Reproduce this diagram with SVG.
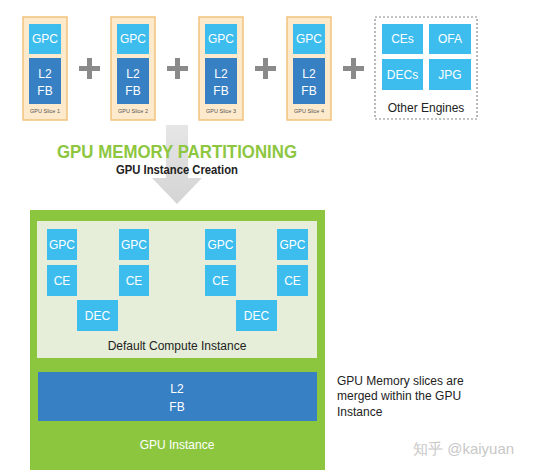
<svg xmlns="http://www.w3.org/2000/svg" width="533" height="474" viewBox="0 0 533 474">
<defs>
<linearGradient id="arrowGrad" x1="0" y1="0" x2="0" y2="1">
<stop offset="0" stop-color="#e6e6e6"/>
<stop offset="1" stop-color="#d4d4d4"/>
</linearGradient>
</defs>
<style>
text{font-family:"Liberation Sans","DejaVu Sans",Arial,sans-serif}
.slice{fill:#fde9cc;stroke:#f2c27c;stroke-width:1.5}
.gpc{fill:#3dbdee}
.l2{fill:#3780c4}
.wt{fill:#ffffff;font-size:12px;text-anchor:middle}
.lbl{fill:#555555;font-size:5.5px;text-anchor:middle}
.plus{fill:#8a8a8a}
.blk{fill:#222222;font-size:12px}
</style>
<rect width="533" height="474" fill="#ffffff"/>

<g id="arrow">
<path d="M166,125 H188 V178 H202 L177,204 L152,178 H166 Z" fill="url(#arrowGrad)"/>
</g>

<g id="slice1">
<rect class="slice" x="23" y="17" width="44" height="103"/>
<rect class="gpc" x="29" y="24" width="32" height="30"/>
<text class="wt" x="45" y="43">GPC</text>
<rect class="l2" x="29" y="58" width="32" height="46"/>
<text class="wt" x="45" y="78">L2</text>
<text class="wt" x="45" y="95">FB</text>
<text class="lbl" x="45" y="113">GPU Slice 1</text>
</g>
<g id="slice2">
<rect class="slice" x="111" y="17" width="44" height="103"/>
<rect class="gpc" x="117" y="24" width="32" height="30"/>
<text class="wt" x="133" y="43">GPC</text>
<rect class="l2" x="117" y="58" width="32" height="46"/>
<text class="wt" x="133" y="78">L2</text>
<text class="wt" x="133" y="95">FB</text>
<text class="lbl" x="133" y="113">GPU Slice 2</text>
</g>
<g id="slice3">
<rect class="slice" x="199" y="17" width="44" height="103"/>
<rect class="gpc" x="205" y="24" width="32" height="30"/>
<text class="wt" x="221" y="43">GPC</text>
<rect class="l2" x="205" y="58" width="32" height="46"/>
<text class="wt" x="221" y="78">L2</text>
<text class="wt" x="221" y="95">FB</text>
<text class="lbl" x="221" y="113">GPU Slice 3</text>
</g>
<g id="slice4">
<rect class="slice" x="287" y="17" width="44" height="103"/>
<rect class="gpc" x="293" y="24" width="32" height="30"/>
<text class="wt" x="309" y="43">GPC</text>
<rect class="l2" x="293" y="58" width="32" height="46"/>
<text class="wt" x="309" y="78">L2</text>
<text class="wt" x="309" y="95">FB</text>
<text class="lbl" x="309" y="113">GPU Slice 4</text>
</g>

<g id="plus-signs">
<path class="plus" d="M87,58 h5 v8 h8 v5 h-8 v8 h-5 v-8 h-8 v-5 h8 Z"/>
<path class="plus" d="M175,58 h5 v8 h8 v5 h-8 v8 h-5 v-8 h-8 v-5 h8 Z"/>
<path class="plus" d="M263,58 h5 v8 h8 v5 h-8 v8 h-5 v-8 h-8 v-5 h8 Z"/>
<path class="plus" d="M351,58 h5 v8 h8 v5 h-8 v8 h-5 v-8 h-8 v-5 h8 Z"/>
</g>

<g id="other-engines">
<rect x="375" y="17" width="102" height="102" fill="none" stroke="#8a8a8a" stroke-width="1.2" stroke-dasharray="2,2"/>
<rect class="gpc" x="382" y="24" width="41" height="30"/>
<text class="wt" x="402.5" y="43">CEs</text>
<rect class="gpc" x="429" y="24" width="42" height="30"/>
<text class="wt" x="450" y="43">OFA</text>
<rect class="gpc" x="382" y="59" width="41" height="31"/>
<text class="wt" x="402.5" y="79">DECs</text>
<rect class="gpc" x="429" y="59" width="42" height="31"/>
<text class="wt" x="450" y="79">JPG</text>
<text class="blk" x="426" y="112" text-anchor="middle">Other Engines</text>
</g>

<g id="title">
<text x="57" y="158" font-size="17.5" font-weight="bold" fill="#8dc63f" textLength="240" lengthAdjust="spacingAndGlyphs">GPU MEMORY PARTITIONING</text>
<text x="116" y="174" font-size="12" font-weight="bold" fill="#222222" textLength="122" lengthAdjust="spacingAndGlyphs">GPU Instance Creation</text>
</g>

<g id="gpu-instance">
<rect x="30" y="210" width="295" height="260" fill="#8cc63f"/>
<text class="wt" x="177" y="449">GPU Instance</text>
</g>

<g id="compute-instance">
<rect x="37" y="221" width="280" height="137" fill="#e6eed9"/>
<rect class="gpc" x="47" y="229" width="30" height="31"/>
<text class="wt" x="62" y="249">GPC</text>
<rect class="gpc" x="47" y="265" width="30" height="31"/>
<text class="wt" x="62" y="285">CE</text>
<rect class="gpc" x="119" y="229" width="30" height="31"/>
<text class="wt" x="134" y="249">GPC</text>
<rect class="gpc" x="119" y="265" width="30" height="31"/>
<text class="wt" x="134" y="285">CE</text>
<rect class="gpc" x="205" y="229" width="31" height="31"/>
<text class="wt" x="220.5" y="249">GPC</text>
<rect class="gpc" x="205" y="265" width="31" height="31"/>
<text class="wt" x="220.5" y="285">CE</text>
<rect class="gpc" x="277" y="229" width="31" height="31"/>
<text class="wt" x="292.5" y="249">GPC</text>
<rect class="gpc" x="277" y="265" width="31" height="31"/>
<text class="wt" x="292.5" y="285">CE</text>
<rect class="gpc" x="77" y="300" width="41" height="31"/>
<text class="wt" x="97.5" y="320">DEC</text>
<rect class="gpc" x="236" y="300" width="41" height="31"/>
<text class="wt" x="256.5" y="320">DEC</text>
<text class="blk" x="177" y="350" text-anchor="middle">Default Compute Instance</text>
</g>

<g id="memory">
<rect x="38" y="372" width="279" height="49" fill="#3780c4"/>
<text class="wt" x="177" y="393">L2</text>
<text class="wt" x="177" y="411">FB</text>
</g>

<g id="note">
<text class="blk" x="337" y="385">GPU Memory slices are</text>
<text class="blk" x="337" y="400">merged within the GPU</text>
<text class="blk" x="337" y="416">Instance</text>
</g>

<g id="watermark">
<text x="413" y="454" font-size="15" fill="#c8c8c8" font-family="'Noto Sans CJK SC','Liberation Sans',sans-serif">知乎 @kaiyuan</text>
</g>
</svg>
